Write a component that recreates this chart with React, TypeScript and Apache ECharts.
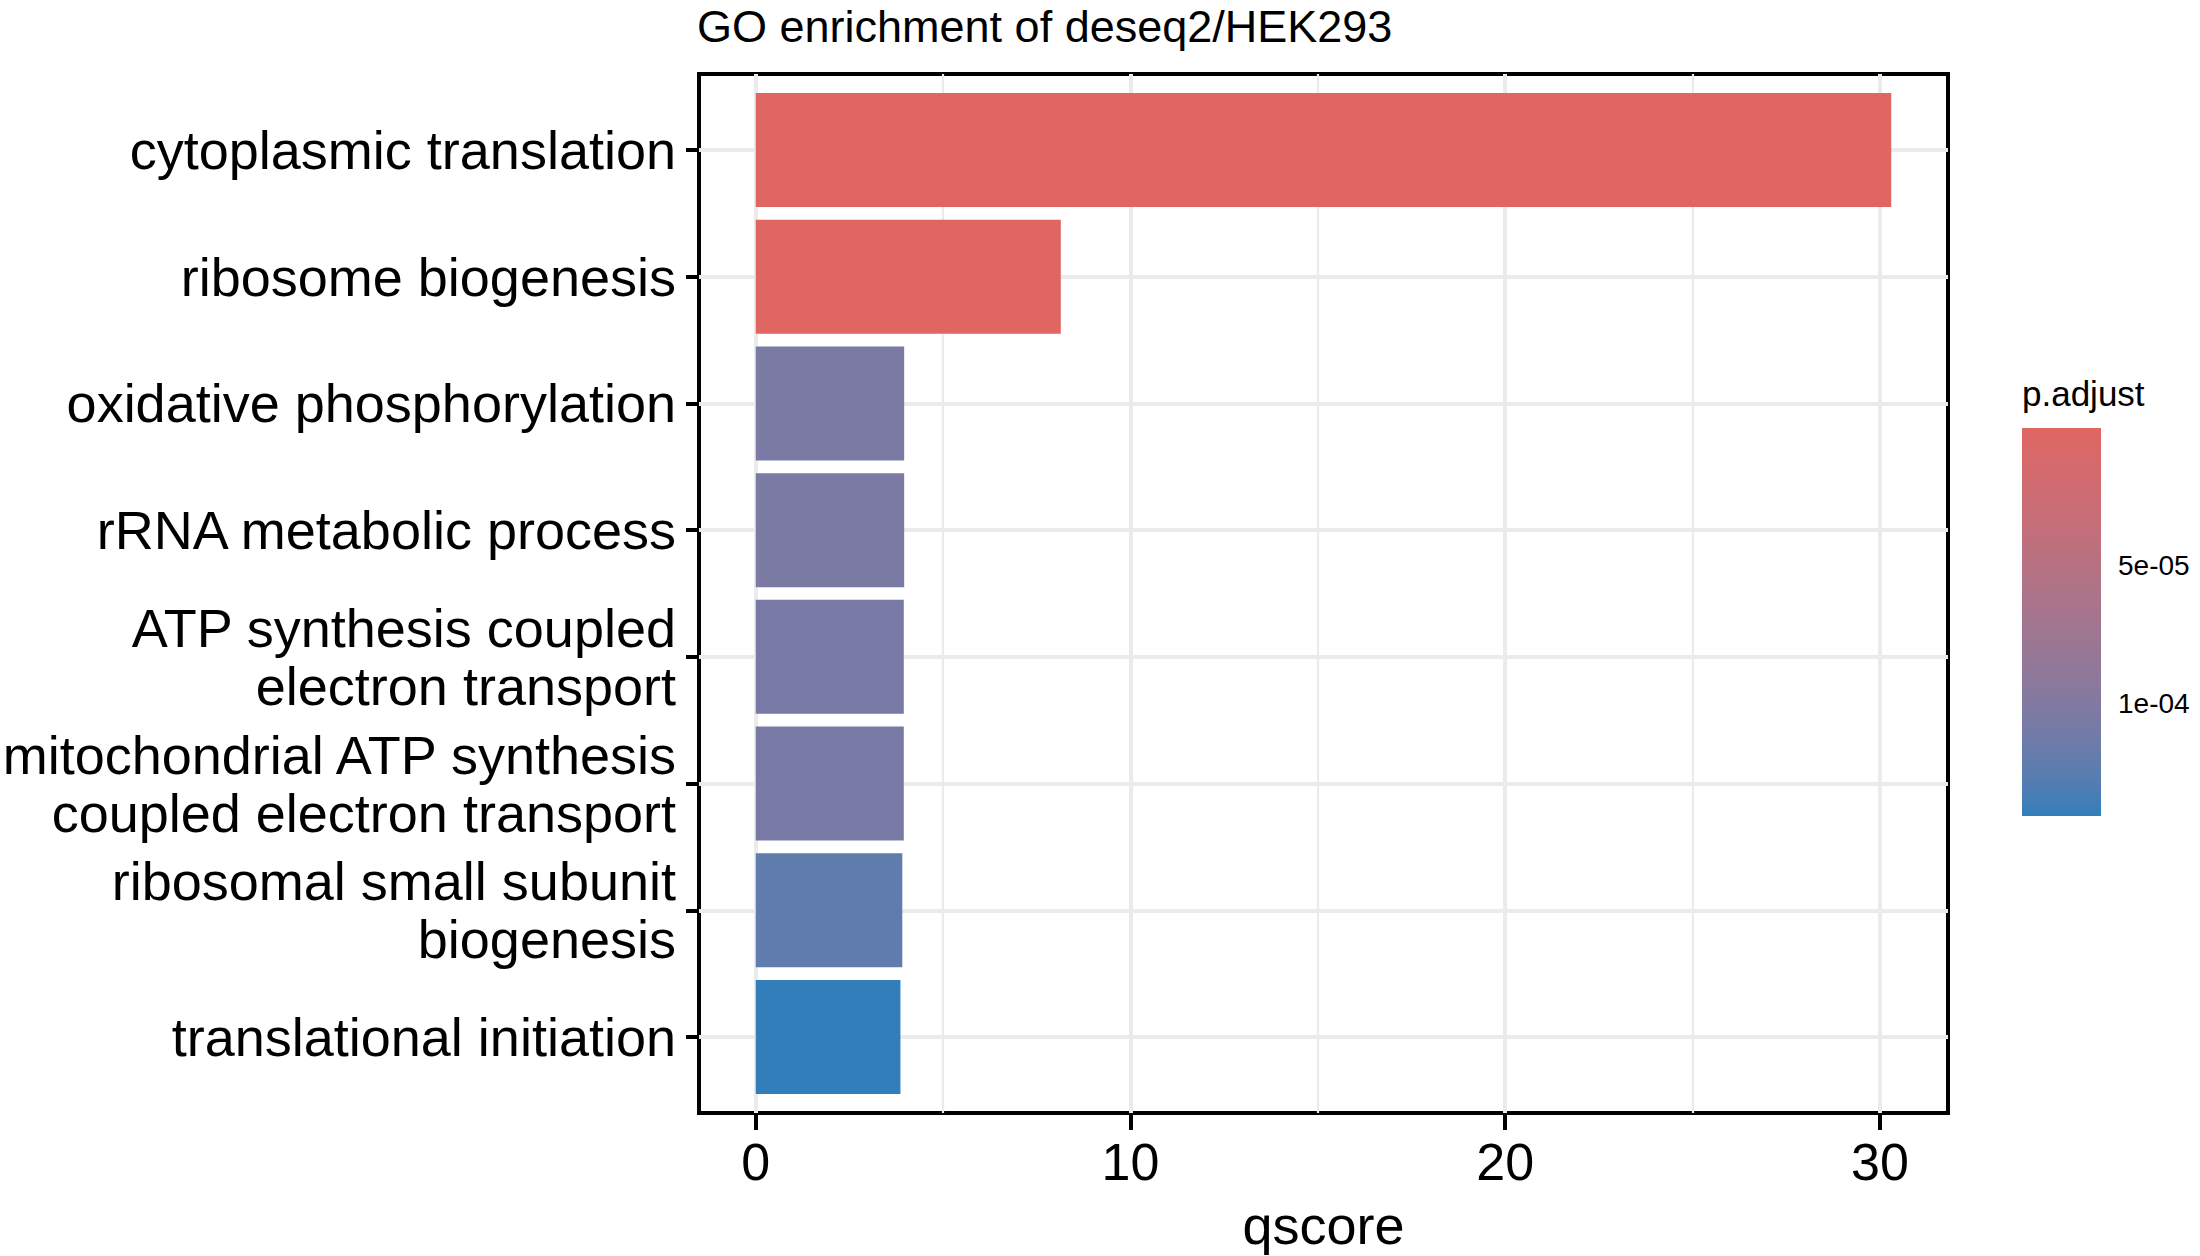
import React, { useEffect, useRef } from 'react';
import * as echarts from 'echarts';

// ---------- data ----------
const chartTitle = 'GO enrichment of deseq2/HEK293';
const categories = [
  'cytoplasmic translation',
  'ribosome biogenesis',
  'oxidative phosphorylation',
  'rRNA metabolic process',
  'ATP synthesis coupled\nelectron transport',
  'mitochondrial ATP synthesis\ncoupled electron transport',
  'ribosomal small subunit\nbiogenesis',
  'translational initiation',
];
const qscore = [30.3, 8.14, 3.96, 3.96, 3.95, 3.95, 3.91, 3.86];
const pAdjust = [6e-31, 8e-9, 1.06e-4, 1.06e-4, 1.07e-4, 1.07e-4, 1.22e-4, 1.41e-4];
const xTicks = [0, 10, 20, 30];
const xMinorTicks = [5, 15, 25];
const legendTicks = [5e-5, 1e-4];
const xName = 'qscore';
const legendName = 'p.adjust';
const LOW_COLOR = '#e06663';
const HIGH_COLOR = '#327eba';

// ---------- Lab colour ramp (like ggplot's gradient) ----------
const Xn = 0.95047, Yn = 1.0, Zn = 1.08883;
function hexToRgb(h: string) { return [1, 3, 5].map((i) => parseInt(h.slice(i, i + 2), 16)); }
function toLin(c: number) { c /= 255; return c <= 0.04045 ? c / 12.92 : Math.pow((c + 0.055) / 1.055, 2.4); }
function toSrgb(c: number) {
  const v = c <= 0.0031308 ? 12.92 * c : 1.055 * Math.pow(c, 1 / 2.4) - 0.055;
  return Math.round(Math.max(0, Math.min(1, v)) * 255);
}
const D = 6 / 29;
function fLab(t: number) { return t > D * D * D ? Math.cbrt(t) : t / (3 * D * D) + 4 / 29; }
function fInv(t: number) { return t > D ? t * t * t : 3 * D * D * (t - 4 / 29); }
function hexToLab(hex: string) {
  const [r, g, b] = hexToRgb(hex).map(toLin);
  const X = 0.4124 * r + 0.3576 * g + 0.1805 * b;
  const Y = 0.2126 * r + 0.7152 * g + 0.0722 * b;
  const Z = 0.0193 * r + 0.1192 * g + 0.9505 * b;
  const fx = fLab(X / Xn), fy = fLab(Y / Yn), fz = fLab(Z / Zn);
  return [116 * fy - 16, 500 * (fx - fy), 200 * (fy - fz)];
}
function labToHex(lab: number[]) {
  const [L, a, b] = lab;
  const fy = (L + 16) / 116, fx = fy + a / 500, fz = fy - b / 200;
  const X = Xn * fInv(fx), Y = Yn * fInv(fy), Z = Zn * fInv(fz);
  const r = 3.2406 * X - 1.5372 * Y - 0.4986 * Z;
  const g = -0.9689 * X + 1.8758 * Y + 0.0415 * Z;
  const bb = 0.0557 * X - 0.204 * Y + 1.057 * Z;
  return '#' + [r, g, bb].map(toSrgb).map((v) => v.toString(16).padStart(2, '0')).join('');
}
function labRamp(lo: string, hi: string, n: number) {
  const A = hexToLab(lo), B = hexToLab(hi);
  return Array.from({ length: n }, (_, i) => {
    const t = i / (n - 1);
    return labToHex([0, 1, 2].map((k) => A[k] + (B[k] - A[k]) * t));
  });
}

function sciLabel(v: number) {
  const [m, e] = v.toExponential(0).split('e');
  const n = parseInt(e, 10);
  return m + 'e' + (n < 0 ? '-' : '+') + String(Math.abs(n)).padStart(2, '0');
}

export default function App() {
  const ref = useRef<HTMLDivElement>(null);

  useEffect(() => {
    document.body.style.margin = '0';
    if (!ref.current) return;
    const chart = echarts.init(ref.current, undefined, { renderer: 'svg' });

    const ramp = labRamp(LOW_COLOR, HIGH_COLOR, 31);
    const pMin = Math.min(...pAdjust);
    const pMax = Math.max(...pAdjust);
    const qMax = Math.max(...qscore);
    const xMin = -0.05 * qMax;
    const xMax = 1.05 * qMax;
    const n = categories.length;
    const yMin = 1 - 0.6;
    const yMax = n + 0.6;
    const positions = categories.map((_, i) => i + 1);
    const data = categories.map((_, i) => [qscore[i], i + 1, pAdjust[i]]);

    const gridColor = '#ebebeb';
    const font = 'Liberation Sans';

    const option: any = {
      animation: false,
      backgroundColor: '#ffffff',
      textStyle: { fontFamily: font, color: '#000' },
      title: [
        {
          text: chartTitle, left: 697, top: 4, padding: 0,
          textStyle: { fontFamily: font, fontSize: 45, fontWeight: 'normal', color: '#000' },
        },
        {
          text: legendName, left: 2022, top: 376, padding: 0,
          textStyle: { fontFamily: font, fontSize: 35, fontWeight: 'normal', color: '#000' },
        },
      ],
      grid: [
        {
          left: 699, top: 74, width: 1249, height: 1039, show: true, borderColor: '#000', borderWidth: 4,
          backgroundColor: '#fff', containLabel: false, outerBoundsMode: 'none',
        },
        { left: 2022, top: 428, width: 79, height: 388, show: false, containLabel: false, outerBoundsMode: 'none' },
      ],
      xAxis: [
        {
          type: 'value', gridIndex: 0, min: xMin, max: xMax, position: 'bottom',
          axisLine: { show: false, onZero: false },
          axisTick: { show: true, length: 17, lineStyle: { color: '#000', width: 4 }, customValues: xTicks },
          axisLabel: { show: true, fontSize: 52, margin: 23, color: '#000', fontFamily: font, customValues: xTicks },
          splitLine: { show: true, lineStyle: { color: gridColor, width: 4 } },
          name: xName, nameLocation: 'middle', nameGap: 85,
          nameTextStyle: { fontSize: 54, color: '#000', fontFamily: font },
        },
        {
          type: 'value', gridIndex: 0, min: xMin, max: xMax, position: 'top',
          axisLine: { show: false, onZero: false },
          axisTick: { show: false, customValues: xMinorTicks },
          axisLabel: { show: false, customValues: xMinorTicks },
          splitLine: { show: true, lineStyle: { color: gridColor, width: 2.2 } },
        },
        {
          type: 'category', gridIndex: 1, data: [legendName], show: false,
          axisLine: { show: false, onZero: false }, axisTick: { show: false }, axisLabel: { show: false },
          splitLine: { show: false },
        },
      ],
      yAxis: [
        {
          type: 'value', gridIndex: 0, min: yMin, max: yMax, inverse: true, position: 'left',
          axisLine: { show: false, onZero: false },
          axisTick: { show: true, length: 13, lineStyle: { color: '#000', width: 4 }, customValues: positions },
          axisLabel: {
            show: true, fontSize: 54, lineHeight: 58, margin: 23, color: '#000', fontFamily: font,
            align: 'right', customValues: positions,
            formatter: (v: number) => categories[Math.round(v) - 1] ?? '',
          },
          splitLine: { show: true, lineStyle: { color: gridColor, width: 4 } },
        },
        {
          type: 'value', gridIndex: 1, min: pMin, max: pMax, inverse: true, position: 'right',
          axisLine: { show: false, onZero: false },
          axisTick: { show: true, inside: true, length: 18, lineStyle: { color: '#fff', width: 2 }, customValues: legendTicks },
          axisLabel: {
            show: true, fontSize: 28, margin: 17, color: '#000', fontFamily: font,
            customValues: legendTicks, formatter: (v: number) => sciLabel(v),
          },
          splitLine: { show: false },
        },
        {
          type: 'value', gridIndex: 1, min: pMin, max: pMax, inverse: true, position: 'left',
          axisLine: { show: false, onZero: false },
          axisTick: { show: true, inside: true, length: 18, lineStyle: { color: '#fff', width: 2 }, customValues: legendTicks },
          axisLabel: { show: false, customValues: legendTicks },
          splitLine: { show: false },
        },
      ],
      visualMap: [
        {
          type: 'continuous', show: false, seriesIndex: 0, dimension: 2,
          min: pMin, max: pMax, inRange: { color: ramp },
        },
      ],
      series: [
        {
          type: 'custom', xAxisIndex: 0, yAxisIndex: 0, data,
          encode: { x: 0, y: 1 },
          z: 5,
          renderItem: (params: any, api: any) => {
            const q = api.value(0);
            const pos = api.value(1);
            const start = api.coord([0, pos]);
            const end = api.coord([q, pos]);
            const h = Math.abs(api.size([0, 0.9])[1]);
            return {
              type: 'rect',
              shape: { x: start[0], y: start[1] - h / 2, width: end[0] - start[0], height: h },
              style: { fill: api.visual('color') },
            };
          },
        },
        {
          type: 'bar', xAxisIndex: 2, yAxisIndex: 1, data: [pMax],
          barWidth: '100%', barCategoryGap: 0, z: 1,
          itemStyle: {
            color: new echarts.graphic.LinearGradient(0, 0, 0, 1,
              ramp.map((c, i) => ({ offset: i / (ramp.length - 1), color: c }))),
          },
        },
      ],
    };

    chart.setOption(option);
    return () => { chart.dispose(); };
  }, []);

  return <div ref={ref} style={{ width: 2200, height: 1256 }} />;
}
